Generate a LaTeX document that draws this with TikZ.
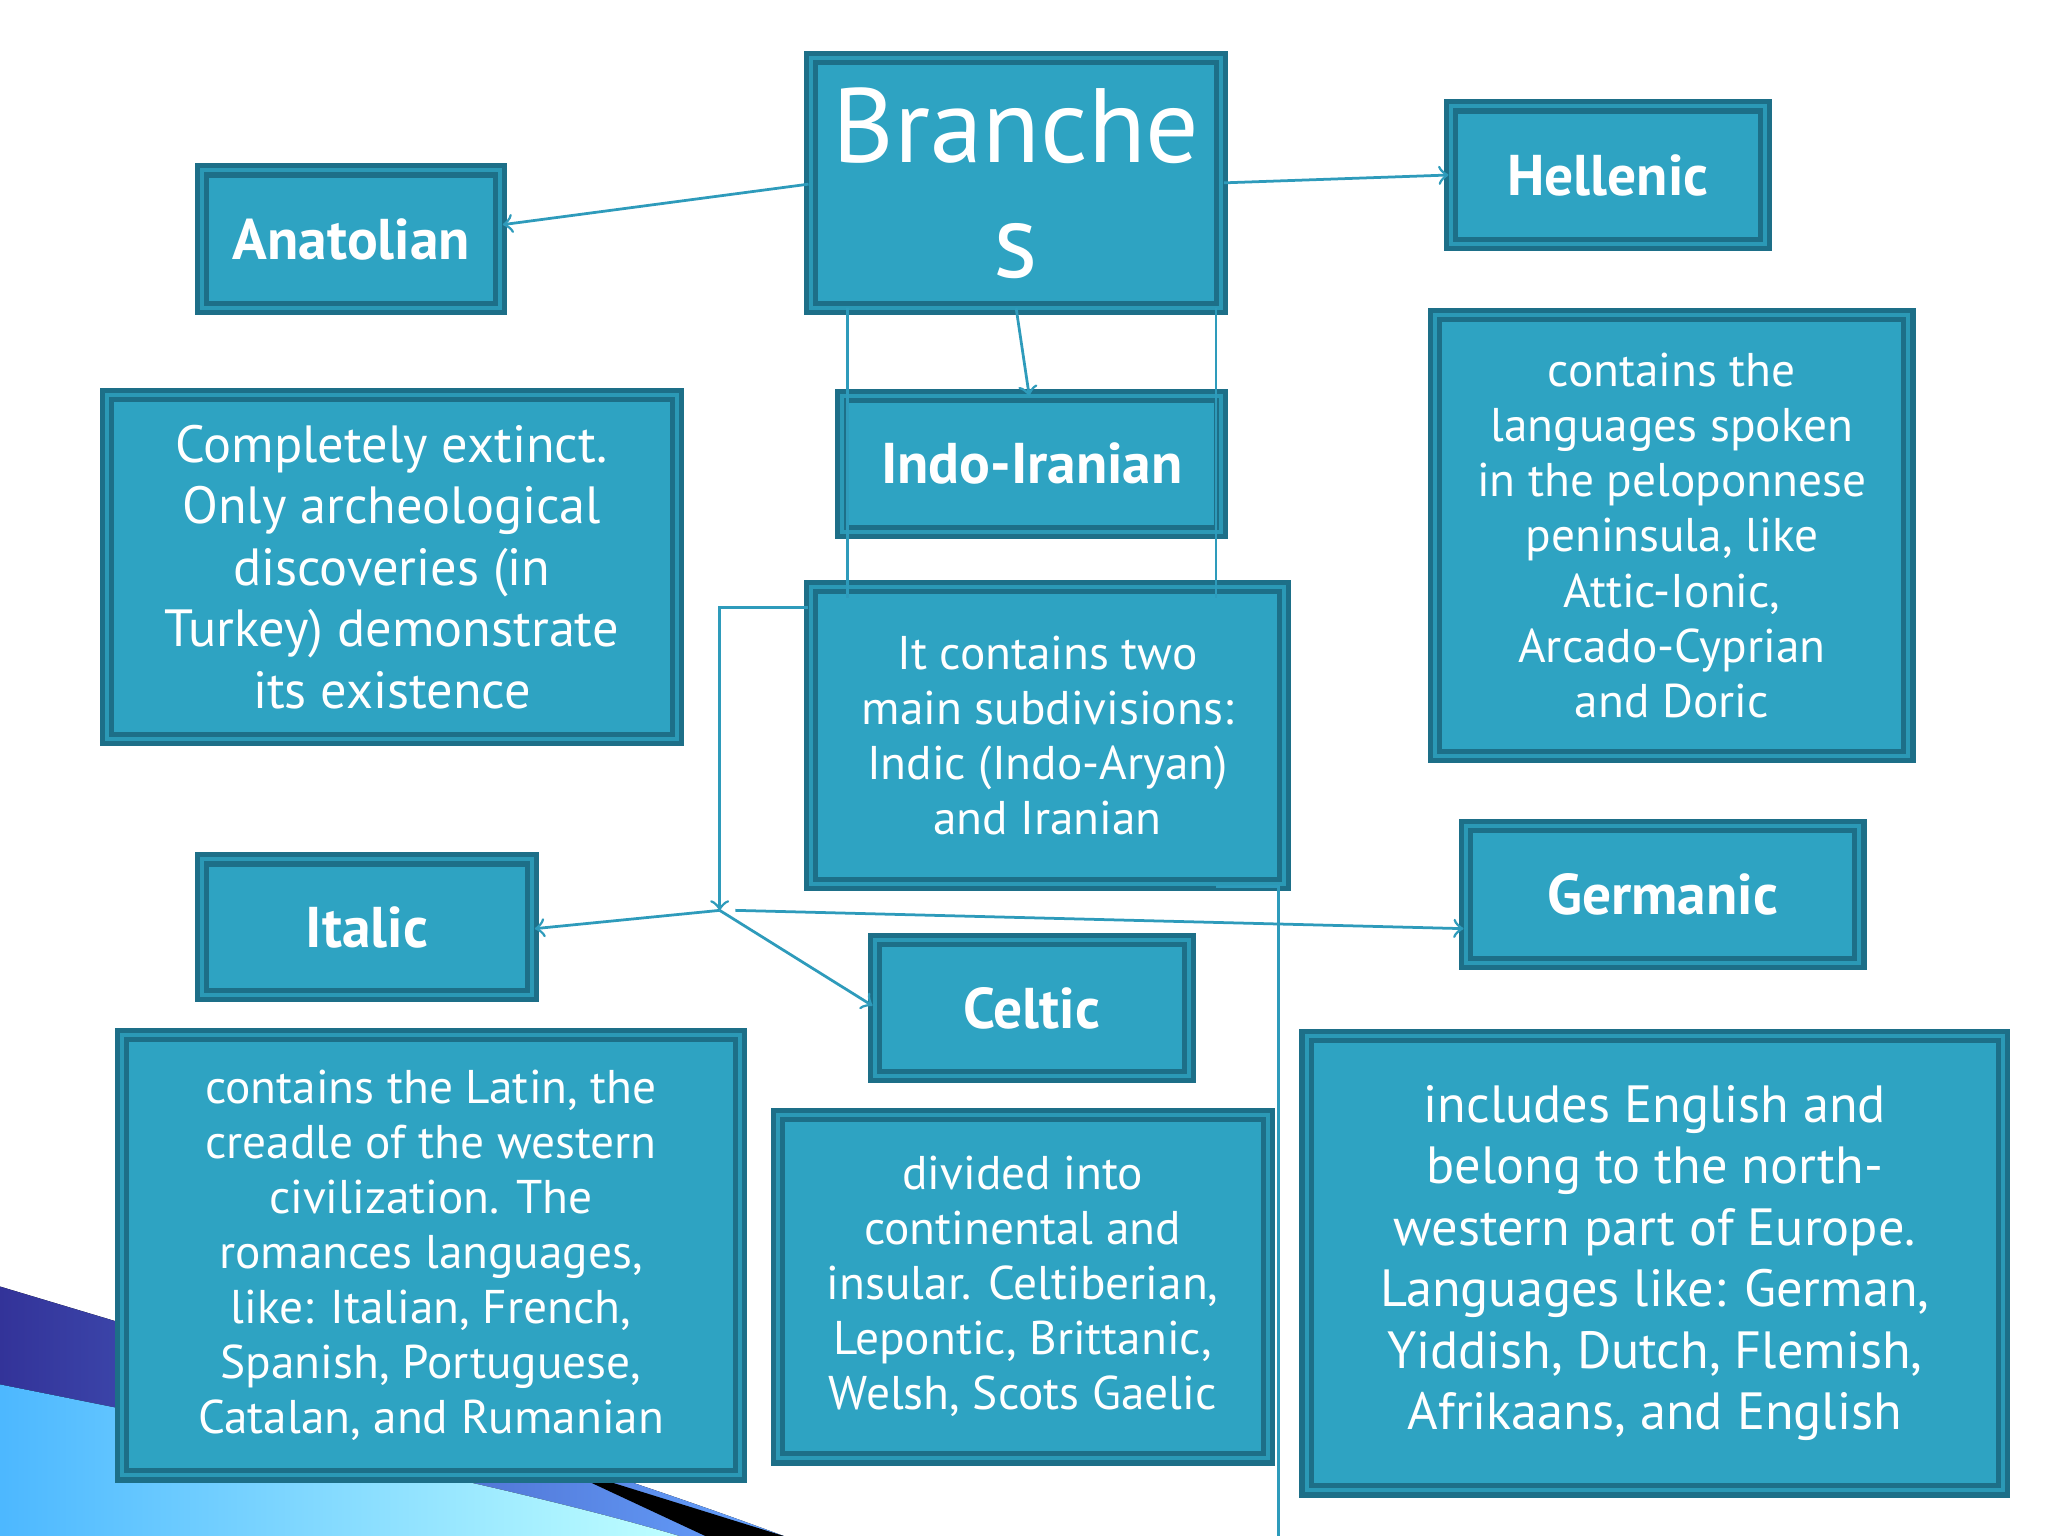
\documentclass[tikz,border=0pt]{standalone}
\usepackage{fontspec}
\setmainfont{PT Sans}
\definecolor{bf}{HTML}{2EA3C2}
\definecolor{bd}{HTML}{1D6F88}
\definecolor{ln}{HTML}{2E9BBB}
\begin{document}
\begin{tikzpicture}[x=0.01cm,y=-0.01cm,
 box/.style={draw=bd,line width=1.1pt,double=bf!80!bd,double distance=0.9pt,fill=bf,text=white,align=center,inner sep=0pt},
 ttl/.style={font=\bfseries\fontsize{12.5}{14}\selectfont},
 bdy/.style={font=\fontsize{10.3}{12}\selectfont},
 arr/.style={draw=ln,line width=0.6pt,->},
 thin/.style={draw=ln,line width=0.6pt}]
\useasboundingbox (0,0) rectangle (1568,1176);
\fill[white] (0,0) rectangle (1568,1176);
% swoosh
\fill[left color=blue!50!black!80, right color=cyan!40!blue!60] (0,985) .. controls (250,1060) and (450,1120) .. (600,1176) -- (0,1176) -- cycle;
\fill[black] (420,1120) -- (600,1176) -- (540,1176) -- cycle;
\fill[left color=cyan!60!blue!70, right color=cyan!25] (0,1060) .. controls (200,1100) and (400,1140) .. (520,1176) -- (0,1176) -- cycle;
% boxes
\node[box,minimum width=3.14cm,minimum height=1.91cm,font=\fontsize{23}{26}\selectfont,text depth=0pt] (br) at (778,140) {Branche\\[-1pt]s};
\node[box,ttl,minimum width=2.28cm,minimum height=1.05cm] (an) at (269,183) {Anatolian};
\node[box,ttl,minimum width=2.40cm,minimum height=1.05cm] (he) at (1231,134) {Hellenic};
\node[box,font=\fontsize{11.4}{13.4}\selectfont,minimum width=4.36cm,minimum height=2.63cm] (ce) at (300,434) {Completely extinct.\\Only archeological\\discoveries (in\\Turkey) demonstrate\\its existence};
\node[box,ttl,minimum width=2.90cm,minimum height=1.04cm] (ii) at (790,355) {Indo-Iranian};
\node[box,bdy,minimum width=3.62cm,minimum height=3.38cm] (hd) at (1280,410) {contains the\\languages spoken\\in the peloponnese\\peninsula, like\\Attic-Ionic,\\Arcado-Cyprian\\and Doric};
\node[box,bdy,minimum width=3.62cm,minimum height=2.27cm] (id) at (802,563) {It contains two\\main subdivisions:\\Indic (Indo-Aryan)\\and Iranian};
\node[box,ttl,minimum width=2.53cm,minimum height=1.04cm] (it) at (281,710) {Italic};
\node[box,ttl,minimum width=3.01cm,minimum height=1.05cm] (ge) at (1273,685) {Germanic};
\node[box,ttl,minimum width=2.40cm,minimum height=1.04cm] (cl) at (790,772) {Celtic};
\node[box,bdy,minimum width=4.73cm,minimum height=3.37cm] (itd) at (330,961) {contains the Latin, the\\creadle of the western\\civilization. The\\romances languages,\\like: Italian, French,\\Spanish, Portuguese,\\Catalan, and Rumanian};
\node[box,bdy,minimum width=3.75cm,minimum height=2.63cm] (cld) at (783,985) {divided into\\continental and\\insular. Celtiberian,\\Lepontic, Brittanic,\\Welsh, Scots Gaelic};
\node[box,font=\fontsize{11.4}{13.4}\selectfont,minimum width=5.33cm,minimum height=3.48cm] (ged) at (1267,967) {includes English and\\belong to the north-\\western part of Europe.\\Languages like: German,\\Yiddish, Dutch, Flemish,\\Afrikaans, and English};
% connectors
\draw[arr] (br.west |- 0,141) -- (an.east |- 0,172);
\draw[arr] (br.east |- 0,140) -- (he.west |- 0,134);
\draw[arr] (778,236) -- (788,303);
\draw[thin] (649,236) -- (649,458);
\draw[thin] (931,236) -- (931,458);
\coordinate (hub) at (551,697);
\draw[arr] (id.west |- 0,465) -- (551,465) -- (hub);
\draw[arr] (hub) -- (it.east |- 0,711);
\draw[arr] (hub) -- (cl.west |- 0,770);
\draw[arr] (563,697) -- (ge.west |- 0,711);
\draw[thin] (931,679) -- (979,679) -- (979,1176);
\end{tikzpicture}
\end{document}
